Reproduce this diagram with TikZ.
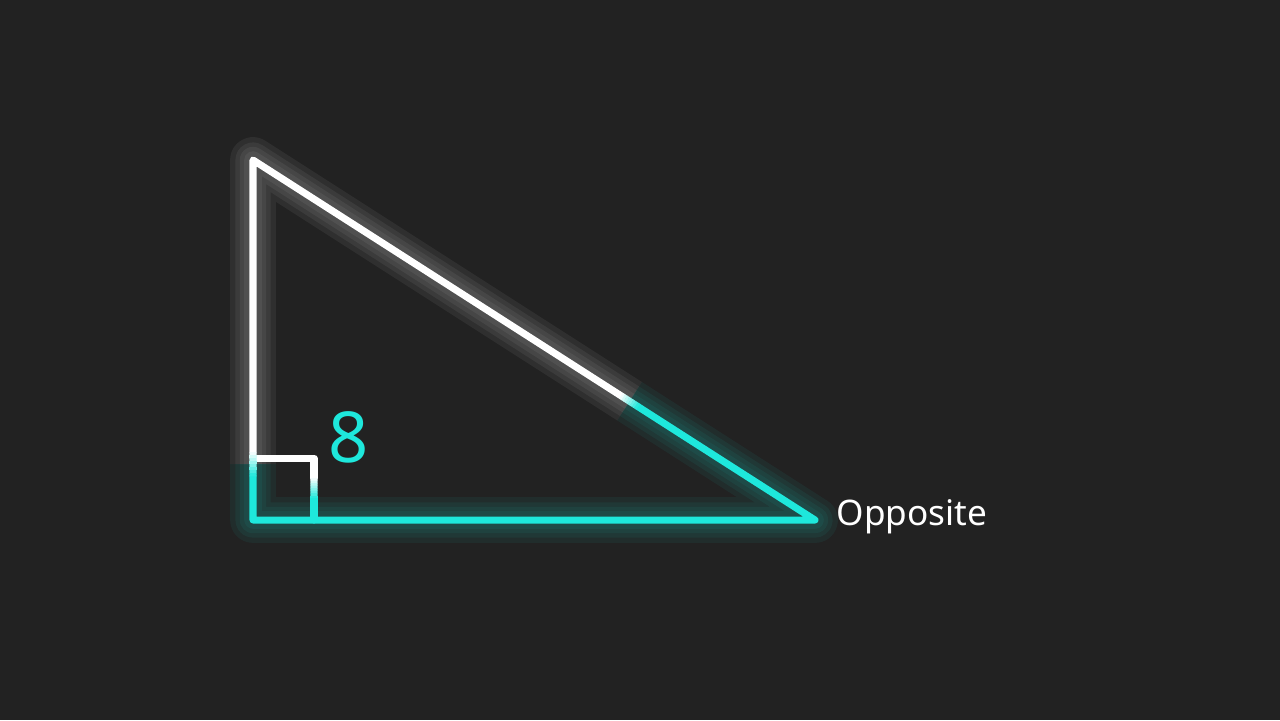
\documentclass[tikz,border=0pt]{standalone}
\usepackage{fontspec}
\setmainfont{Noto Sans}
\usetikzlibrary{calc}
\definecolor{bgdark}{HTML}{222222}
\definecolor{legcyan}{HTML}{1EE8DC}

\tikzset{
  edge/.style={line width=2pt, line cap=round, line join=round},
  haze/.style={line cap=butt, line join=round, opacity=0.06}
}

\begin{document}
\begin{tikzpicture}[x=0.01cm, y=-0.01cm]
  \fill[bgdark] (0,0) rectangle (1280,720);
  \useasboundingbox (0,0) rectangle (1280,720);

  % corners of the triangle
  \coordinate (apex) at (253,160);
  \coordinate (corner) at (253,520);
  \coordinate (tip) at (815,520);
  % where the colour turns
  \coordinate (hypA) at ($(apex)!0.655!(tip)$);
  \coordinate (hypM) at ($(apex)!0.67!(tip)$);
  \coordinate (hypB) at ($(apex)!0.685!(tip)$);
  \coordinate (legA) at (253,452);
  \coordinate (legM) at (253,464);
  \coordinate (legB) at (253,476);
  % right angle mark
  \coordinate (sqtop) at (253,458);
  \coordinate (sqcorner) at (314,458);
  \coordinate (sqA) at (314,478);
  \coordinate (sqB) at (314,498);
  \coordinate (sqfoot) at (314,520);

  % glow
  \foreach \w in {13,10,7.5,5} {
    \draw[haze, white, line width=\w pt] (legM) -- (apex) -- (hypM);
    \draw[haze, legcyan, line width=\w pt] (hypM) -- (tip) -- (corner) -- (legM);
  }

  % white part
  \draw[edge, white] (legA) -- (apex) -- (hypA);
  \draw[edge, white] (sqtop) -- (sqcorner) -- (sqA);
  % cyan part
  \draw[edge, legcyan] (hypB) -- (tip) -- (corner) -- (legB);
  \draw[edge, legcyan] (sqB) -- (sqfoot);
  % blends
  \foreach \i in {0,...,7} {
    \pgfmathsetmacro{\mix}{100*(\i+0.5)/8}
    \draw[line width=2pt, legcyan!\mix!white]
      ($(hypA)!\i/8!(hypB)$) -- ($(hypA)!\i/8+0.14!(hypB)$);
    \draw[line width=2pt, legcyan!\mix!white]
      ($(legA)!\i/8!(legB)$) -- ($(legA)!\i/8+0.14!(legB)$);
    \draw[line width=2pt, legcyan!\mix!white]
      ($(sqA)!\i/8!(sqB)$) -- ($(sqA)!\i/8+0.14!(sqB)$);
  }

  \node[text=legcyan, font=\fontsize{20}{20}\selectfont] (eight) at (349,437) {8};
  \node[text=white, font=\fontsize{10}{12}\selectfont] (opposite) at (912,517) {Opposite};
\end{tikzpicture}
\end{document}
